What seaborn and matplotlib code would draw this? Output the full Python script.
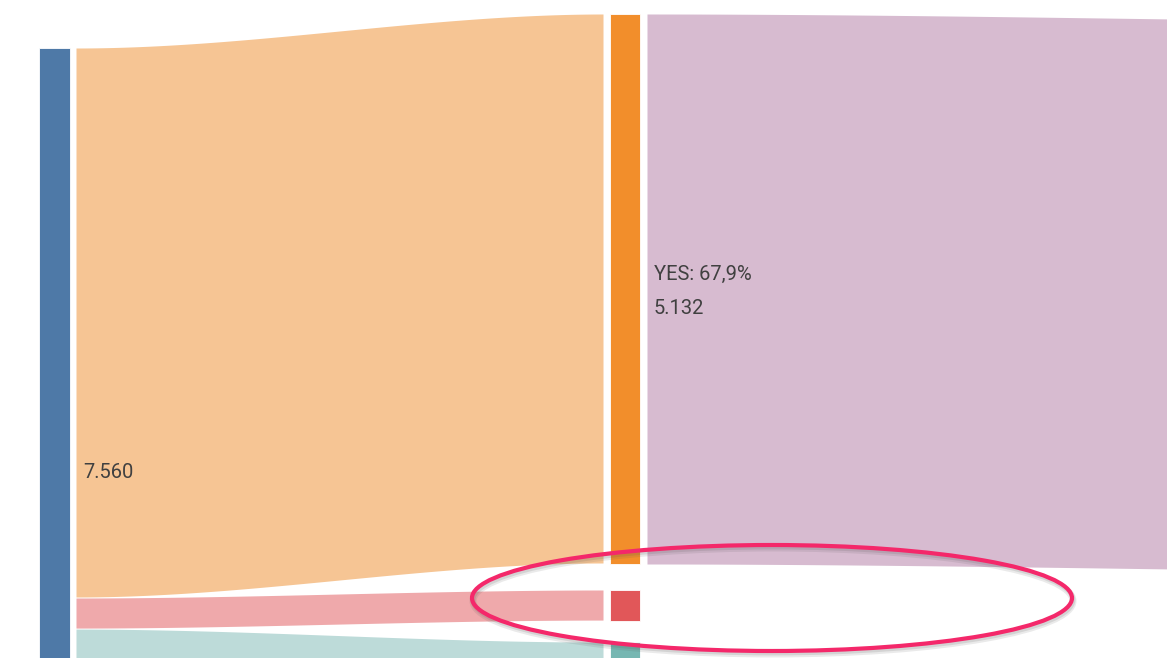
import numpy as np
import matplotlib.pyplot as plt
from matplotlib.patches import Ellipse
import seaborn as sns

# Data
source_label = "Total"
source_value = 7560
target_labels = ["YES", "NO", "OTHER"]
target_values = [5132, 290, 2138]
next_values = [5132]          # YES flows on to the next stage

# Colours
source_color = "#4e79a7"
node_colors = ["#f28e2b", "#e15759", "#76b7b2"]
flow_colors = ["#f6c594", "#efa9ab", "#bddbd9"]
next_flow_color = "#d7bbd0"

sns.set_theme(style="white")
plt.rcParams["font.family"] = ["Roboto", "DejaVu Sans"]

# layout (pixels)
W, H = 1167, 658
scale = 550 / 5132          # px per unit
src_x, src_w, src_top = 39, 31, 48
mid_x, mid_w = 610, 30
mid_tops = [14]
mid_gaps = [26, 21]
flow_x0, flow_x1 = 76, 603
next_x0, next_x1, next_shift = 647, 1700, 10


def band(ax, x0, x1, top0, top1, h0, h1, color):
    xs = np.linspace(x0, x1, 200)
    s = (xs - x0) / (x1 - x0)
    s = 3 * s**2 - 2 * s**3
    top = top0 + (top1 - top0) * s
    bot = (top0 + h0) + ((top1 + h1) - (top0 + h0)) * s
    ax.fill_between(xs, top, bot, color=color, lw=0)


fig = plt.figure(figsize=(W / 100, H / 100), dpi=100)
ax = fig.add_axes([0, 0, 1, 1])
ax.set_xlim(0, W)
ax.set_ylim(H, 0)
ax.axis("off")

# source node
ax.bar(src_x, source_value * scale, width=src_w, bottom=src_top,
       align="edge", color=source_color, edgecolor="white", lw=0.6)

# middle nodes positions
tops = list(mid_tops)
for i in range(1, len(target_values)):
    tops.append(tops[-1] + target_values[i - 1] * scale + mid_gaps[i - 1])

left_top = src_top
for v, t, nc, fc in zip(target_values, tops, node_colors, flow_colors):
    h = v * scale
    band(ax, flow_x0, flow_x1, left_top, t, h - 1, h - 1, fc)
    ax.bar(mid_x, h, width=mid_w, bottom=t, align="edge",
           color=nc, edgecolor="white", lw=0.6)
    left_top += h

# flow from YES onward
h = next_values[0] * scale
band(ax, next_x0, next_x1, tops[0], tops[0] + next_shift, h, h, next_flow_color)

# labels
txt = dict(color="#404040", fontsize=14.5, va="center", ha="left")
pct = target_values[0] / source_value * 100
ax.text(654, 274, f"{target_labels[0]}: {pct:.1f}%".replace(".", ","), **txt)
ax.text(654, 308, f"{target_values[0]:,}".replace(",", "."), **txt)
ax.text(83, 472, f"{source_value:,}".replace(",", "."), **txt)

# highlight ellipse with soft shadow
for dx, dy, c, a, lw in [(1, 3, "#555555", 0.12, 5), (1, 2, "#555555", 0.15, 3.5)]:
    ax.add_patch(Ellipse((772 + dx, 598 + dy), 600, 106, fill=False,
                         edgecolor=c, alpha=a, lw=lw))
ax.add_patch(Ellipse((772, 598), 600, 106, fill=False, edgecolor="#f4286a", lw=3))

fig.savefig("out.png", dpi=100)
